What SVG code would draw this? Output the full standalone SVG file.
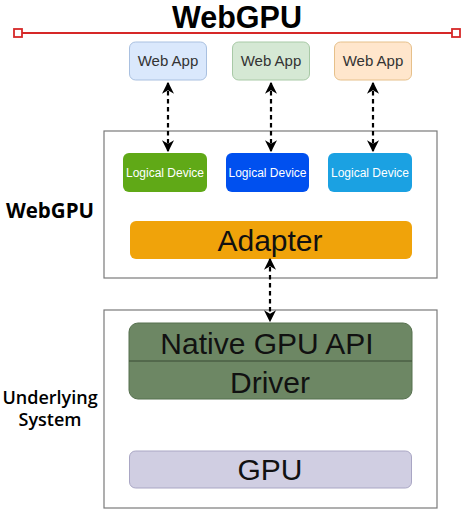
<svg xmlns="http://www.w3.org/2000/svg" width="474" height="511" viewBox="0 0 474 511">
<style>
.lbl{font-family:"Liberation Sans",Arial,sans-serif;text-anchor:middle}
.hd{font-family:"Open Sans","Liberation Sans",sans-serif;font-weight:700;fill:#000}
.app{font-size:15px;fill:#333}
.ld{font-size:12px;fill:#fff}
.big{font-size:30px;fill:#111}
.frame{fill:#fff;stroke:#7a7a7a;stroke-width:1.2}
.conn{stroke:#000;stroke-width:2.2;stroke-dasharray:4.5 3.5;fill:none;marker-start:url(#ah);marker-end:url(#ah)}
</style>
<defs>
<marker id="ah" markerUnits="userSpaceOnUse" markerWidth="12" markerHeight="12" viewBox="0 0 10 10" refX="9" refY="5" orient="auto-start-reverse">
<path d="M0,0 L10,5 L0,10 L3,5 z" fill="#000"/>
</marker>
</defs>
<rect width="474" height="511" fill="#fff"/>
<g id="title">
<text x="237" y="28" font-family="'Liberation Sans',Arial,sans-serif" font-weight="700" font-size="30.5" text-anchor="middle" fill="#000">WebGPU</text>
<line x1="18" y1="33" x2="456" y2="33" stroke="#d62828" stroke-width="1.8"/>
<rect x="14" y="29" width="8" height="8" fill="#fff" stroke="#d62828" stroke-width="1.8"/>
<rect x="452" y="29" width="8" height="8" fill="#fff" stroke="#d62828" stroke-width="1.8"/>
</g>
<g id="webgpu-frame">
<rect x="104" y="131" width="333" height="147" class="frame"/>
<text x="50" y="218" class="hd" font-size="20.5" text-anchor="middle">WebGPU</text>
</g>
<g id="system-frame">
<rect x="104" y="310" width="333" height="198" class="frame"/>
<text x="50" y="404" class="hd" font-size="18" text-anchor="middle" style="font-weight:600">Underlying</text>
<text x="50" y="426" class="hd" font-size="18" text-anchor="middle" style="font-weight:600">System</text>
</g>
<g id="webapp1">
<rect x="129.5" y="42" width="77" height="38" rx="6" fill="#dae8fc" stroke="#a9c0e0"/>
<text x="168" y="66" class="lbl app">Web App</text>
</g>
<g id="webapp2">
<rect x="232.5" y="42" width="77" height="38" rx="6" fill="#d5e8d4" stroke="#a8c9a6"/>
<text x="271" y="66" class="lbl app">Web App</text>
</g>
<g id="webapp3">
<rect x="334.5" y="42" width="77" height="38" rx="6" fill="#ffe6cc" stroke="#e6c08a"/>
<text x="373" y="66" class="lbl app">Web App</text>
</g>
<g id="ld1">
<rect x="123" y="153" width="84" height="39" rx="6" fill="#60a917"/>
<text x="165" y="177" class="lbl ld">Logical Device</text>
</g>
<g id="ld2">
<rect x="226" y="153" width="83" height="39" rx="6" fill="#0050ef"/>
<text x="267.5" y="177" class="lbl ld">Logical Device</text>
</g>
<g id="ld3">
<rect x="328" y="153" width="84" height="39" rx="6" fill="#1ba1e2"/>
<text x="370" y="177" class="lbl ld">Logical Device</text>
</g>
<g id="adapter">
<rect x="130" y="221" width="282" height="38" rx="6" fill="#f0a30a"/>
<text x="270" y="251" class="lbl big">Adapter</text>
</g>
<g id="native-driver">
<rect x="129" y="323" width="283" height="76" rx="9" fill="#6d8764" stroke="#56704e"/>
<line x1="129" y1="361" x2="412" y2="361" stroke="#3a4a34" stroke-width="1"/>
<text x="267" y="354" class="lbl big">Native GPU API</text>
<text x="270" y="393" class="lbl big">Driver</text>
</g>
<g id="gpu">
<rect x="129.5" y="451" width="282" height="37" rx="6" fill="#d0cee2" stroke="#a9a6c4"/>
<text x="270" y="480" class="lbl big">GPU</text>
</g>
<g id="connectors">
<line x1="168" y1="83" x2="168" y2="151" class="conn"/>
<line x1="271" y1="83" x2="271" y2="151" class="conn"/>
<line x1="373" y1="83" x2="373" y2="151" class="conn"/>
<line x1="270" y1="259" x2="270" y2="321" class="conn"/>
</g>
</svg>
